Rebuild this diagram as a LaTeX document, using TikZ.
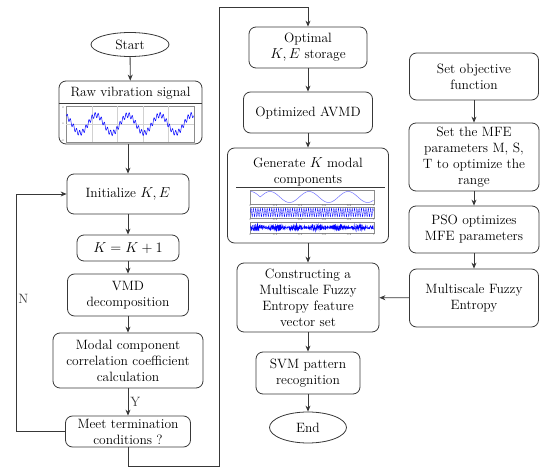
\documentclass[tikz,border=0pt]{standalone}
\usetikzlibrary{arrows.meta,shapes.geometric}
\colorlet{ln}{black!78}
\begin{document}
\begin{tikzpicture}[x=1pt, y=-1pt, >={Stealth[length=6pt,width=5pt]}, line width=0.8pt,
	box/.style={draw=ln, rounded corners=7pt, align=center, inner sep=1pt, font=\fontsize{13.5}{16}\selectfont},
	term/.style={draw=ln, ellipse, inner sep=0pt, font=\fontsize{13.5}{16}\selectfont},
	lbl/.style={font=\fontsize{13.5}{16}\selectfont, inner sep=2pt},
	frame/.style={draw=black!45, line width=0.4pt, fill=white},
	grid/.style={draw=black!18, line width=0.3pt},
	tick/.style={font=\fontsize{2.5}{3}\selectfont, inner sep=0.3pt, text=black!70}]
	\useasboundingbox (0,0) rectangle (550,476);
	% left column
	\node[term, minimum width=78pt, minimum height=24pt] (start) at (130,44.5) {Start};
	\node[box, minimum width=143pt, minimum height=63pt] (raw) at (130.5,112.5) {};
	\node[lbl] (rawtitle) at (130.5,93.5) {Raw vibration signal};
	\coordinate (rawcut) at (0,103);
	\draw[ln] (raw.west |- rawcut) -- (raw.east |- rawcut);
	\draw[frame] (66,106) rectangle (194,142);
	\foreach \gx in {92,117,143,168} \draw[grid] (\gx,106) -- (\gx,142);
	\draw[grid] (66,124) -- (194,124);
	\node[tick] at (63,107.5) {2};
	\node[tick] at (63,124) {0};
	\node[tick] at (62.5,140.5) {-2};
	\draw[blue, line width=0.5pt, domain=0:1, samples=500] plot (66.5+127*\x, {124-9*cos(360*frac(3.97*\x+0.08))-2.6*sin(360*frac(41*\x))});
	\node[box, minimum width=122pt, minimum height=40pt] (init) at (128,194) {Initialize $K,E$};
	\node[box, minimum width=102pt, minimum height=26pt] (kplus) at (128,248) {$K=K+1$};
	\node[box, minimum width=121pt, minimum height=42pt] (vmd) at (128,295) {VMD\\decomposition};
	\node[box, minimum width=150pt, minimum height=55pt] (modal) at (128,360.5) {Modal component\\correlation coefficient\\calculation};
	\node[box, minimum width=125pt, minimum height=31pt] (meet) at (128,431.5) {Meet termination\\conditions ?};
	% middle column
	\node[box, minimum width=118pt, minimum height=41pt] (optimal) at (308,47.5) {Optimal\\$K,E$ storage};
	\node[box, minimum width=129pt, minimum height=41pt] (avmd) at (308,112.5) {Optimized AVMD};
	\node[box, minimum width=161pt, minimum height=95pt] (genk) at (308,195.5) {};
	\node[lbl, align=center] (gentitle) at (308,172) {Generate $K$ modal\\components};
	\draw[ln] (236,187) -- (385,187);
	\draw[frame] (250,190) rectangle (374,204);
	\draw[frame] (250,207) rectangle (374,218);
	\draw[frame] (250,222) rectangle (374,233);
	\draw[blue!55, line width=0.5pt, domain=0:1, samples=300] plot (250.5+123*\x, {197-5.5*sin(360*frac(3.15*\x-0.25))});
	\draw[blue, line width=0.3pt, domain=0:1, samples=700] plot (250.5+123*\x, {212.5-4.3*sin(360*frac(53.5*\x))});
	\pgfmathsetseed{7}
	\draw[blue, line width=0.4pt, domain=0:1, samples=600] plot (250.5+123*\x, {227.5+(2.6+1.2*sin(360*frac(6*\x)))*rand});
	\foreach \tx/\tl in {250/0,275/0.2,300/0.4,324/0.6,349/0.8,374/1} {
		\node[tick] at (\tx,205.5) {\tl};
		\node[tick] at (\tx,220) {\tl};
		\node[tick] at (\tx,235) {\tl};
	}
	\node[box, minimum width=142pt, minimum height=69pt] (construct) at (308,297.5) {Constructing a\\Multiscale Fuzzy\\Entropy feature\\vector set};
	\node[box, minimum width=104pt, minimum height=42pt] (svm) at (308,373) {SVM pattern\\recognition};
	\node[term, minimum width=77pt, minimum height=31pt] (end) at (308,427.5) {End};
	% right column
	\node[box, minimum width=129pt, minimum height=47pt] (objective) at (474,76.5) {Set objective\\function};
	\node[box, minimum width=130pt, minimum height=68pt] (mfepar) at (474,157) {Set the MFE\\parameters M, S,\\T to optimize the\\range};
	\node[box, minimum width=130pt, minimum height=47pt] (pso) at (474,229.5) {PSO optimizes\\MFE parameters};
	\node[box, minimum width=129pt, minimum height=58pt] (mfe) at (474,298) {Multiscale Fuzzy\\Entropy};
	% connectors
	\coordinate (lowturn) at (219,466);
	\coordinate (topturn) at (219,7);
	\draw[->, ln] (start) -- (raw);
	\draw[->, ln] (raw.south -| init.north) -- (init.north);
	\draw[->, ln] (init) -- (kplus);
	\draw[->, ln] (kplus) -- (vmd);
	\draw[->, ln] (vmd) -- (modal);
	\draw[->, ln] (modal) -- node[lbl, right] (ylabel) {Y} (meet);
	\draw[->, ln] (meet.west) -- ++(-49,0) |- node[lbl, right, pos=0.28] (nlabel) {N} (init.west);
	\draw[->, ln] (meet.south) |- (lowturn) -- (topturn) -| (optimal.north);
	\draw[->, ln] (optimal) -- (avmd);
	\draw[->, ln] (avmd) -- (genk);
	\draw[->, ln] (genk) -- (construct);
	\draw[->, ln] (construct) -- (svm);
	\draw[->, ln] (svm) -- (end);
	\draw[->, ln] (objective) -- (mfepar);
	\draw[->, ln] (mfepar) -- (pso);
	\draw[->, ln] (pso) -- (mfe);
	\draw[->, ln] (mfe) -- (construct);
\end{tikzpicture}
\end{document}
